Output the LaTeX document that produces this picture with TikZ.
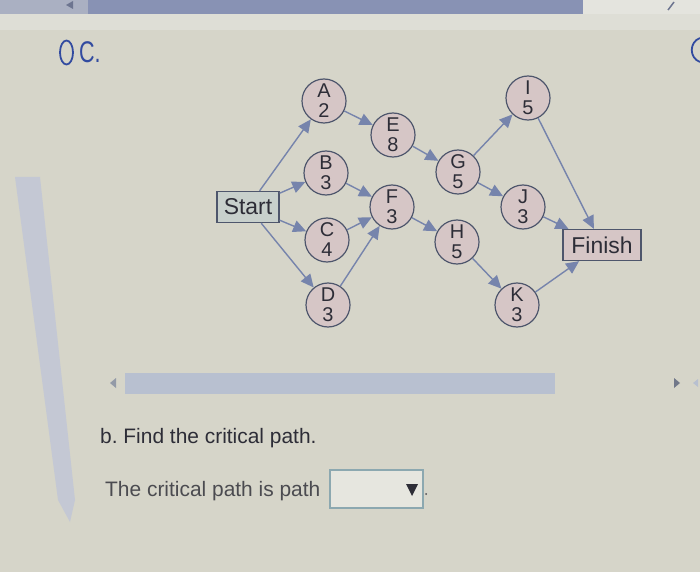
\documentclass[tikz,border=0pt]{standalone}
\usepackage{fontspec}
\setmainfont{Liberation Sans}
\usepackage{graphicx}
\usetikzlibrary{arrows.meta}
\frenchspacing
\definecolor{bg}{RGB}{214,213,201}
\definecolor{bgtop}{RGB}{222,222,214}
\definecolor{nodefill}{RGB}{214,198,198}
\definecolor{nodeline}{RGB}{78,86,108}
\definecolor{boxfill}{RGB}{200,208,204}
\definecolor{edge}{RGB}{118,132,172}
\definecolor{txt}{RGB}{45,45,55}
\definecolor{txtb}{RGB}{75,75,80}
\definecolor{bar}{RGB}{136,146,180}
\definecolor{scroll}{RGB}{184,192,208}
\definecolor{stripe}{RGB}{196,200,212}
\definecolor{optblue}{RGB}{50,75,160}
\definecolor{ddline}{RGB}{140,168,176}
\tikzset{
  task/.style={circle, draw=nodeline, fill=nodefill, line width=1.2bp,
    minimum size=44bp, inner sep=0pt, text=txt, align=center,
    font=\fontsize{20}{20}\selectfont},
  endbox/.style={rectangle, draw=nodeline, line width=1.3bp, text=txt,
    inner sep=0pt, minimum height=31bp, font=\fontsize{23}{24}\selectfont},
  link/.style={draw=edge, line width=1.4bp, -{Triangle[length=13bp,width=12bp]}}
}
\begin{document}
\begin{tikzpicture}[x=1bp,y=-1bp]
\useasboundingbox (0,0) rectangle (700,572);
\fill[bg] (0,0) rectangle (700,572);
\fill[bgtop] (0,14) rectangle (700,30);
% top bar
\fill[bar] (88,0) rectangle (583,14);
\fill[bar!60!bgtop] (0,0) rectangle (88,14);
\fill[bgtop!80!white] (583,0) rectangle (700,14);
\fill[bar!80!black] (66,5) -- (73,1) -- (73,9) -- cycle;
\draw[bar!80!black, line width=1.5bp] (668,10) -- (674,2);
% left stripe
\fill[stripe] (15,177) -- (40,177) -- (75,500) -- (70,522) -- (58,500) -- cycle;
% option C
\draw[optblue, line width=1.8bp] (66.5,52.5) ellipse (6.5 and 12);
\node[text=optblue, anchor=west, inner sep=0pt, font=\fontsize{30}{30}\selectfont] (optc) at (79,52) {\scalebox{0.72}[1]{C.}};
\draw[optblue, line width=1.8bp] (700,38) .. controls (689,42) and (689,58) .. (700,62);
% nodes
\node[endbox, fill=boxfill, minimum width=62bp] (start) at (248,207) {Start};
\node[endbox, fill=nodefill, minimum width=78bp] (finish) at (602,245) {Finish};
\node[task] (A) at (324,101) {A\\2};
\node[task] (E) at (393,135) {E\\8};
\node[task] (B) at (326,173) {B\\3};
\node[task] (F) at (392,207) {F\\3};
\node[task] (C) at (327,240) {C\\4};
\node[task] (D) at (328,305) {D\\3};
\node[task] (I) at (528,98) {I\\5};
\node[task] (G) at (458,172) {G\\5};
\node[task] (J) at (523,207) {J\\3};
\node[task] (H) at (457,242) {H\\5};
\node[task] (K) at (517,305) {K\\3};
% connectors
\draw[link] (start) -- (A);
\draw[link] (start) -- (B);
\draw[link] (start) -- (C);
\draw[link] (start) -- (D);
\draw[link] (A) -- (E);
\draw[link] (B) -- (F);
\draw[link] (C) -- (F);
\draw[link] (D) -- (F);
\draw[link] (E) -- (G);
\draw[link] (F) -- (H);
\draw[link] (G) -- (I);
\draw[link] (G) -- (J);
\draw[link] (H) -- (K);
\draw[link] (I) -- (finish);
\draw[link] (J) -- (finish);
\draw[link] (K) -- (finish);
% scrollbar
\fill[scroll] (125,373) rectangle (555,394);
\fill[scroll!80!black] (110,383) -- (116,378) -- (116,388) -- cycle;
\fill[nodeline!80!white] (680,383) -- (674,378) -- (674,388) -- cycle;
\fill[scroll] (693,383) -- (698,379) -- (698,387) -- cycle;
% question text
\node[anchor=base west, inner sep=0pt, text=txt, font=\fontsize{21}{21}\selectfont] (q) at (100,443) {b. Find the critical path.};
\node[anchor=base west, inner sep=0pt, text=txtb, font=\fontsize{21}{21}\selectfont] (ans) at (105,496) {The critical path is path};
\node[draw=ddline, fill=bg!60!white, line width=1.2bp, minimum width=93bp, minimum height=38bp, inner sep=0pt] (dd) at (376.5,489) {};
\fill[txt] (406,484) -- (418,484) -- (412,496) -- cycle;
\fill[txtb] (426,494) circle (1bp);
\end{tikzpicture}
\end{document}
